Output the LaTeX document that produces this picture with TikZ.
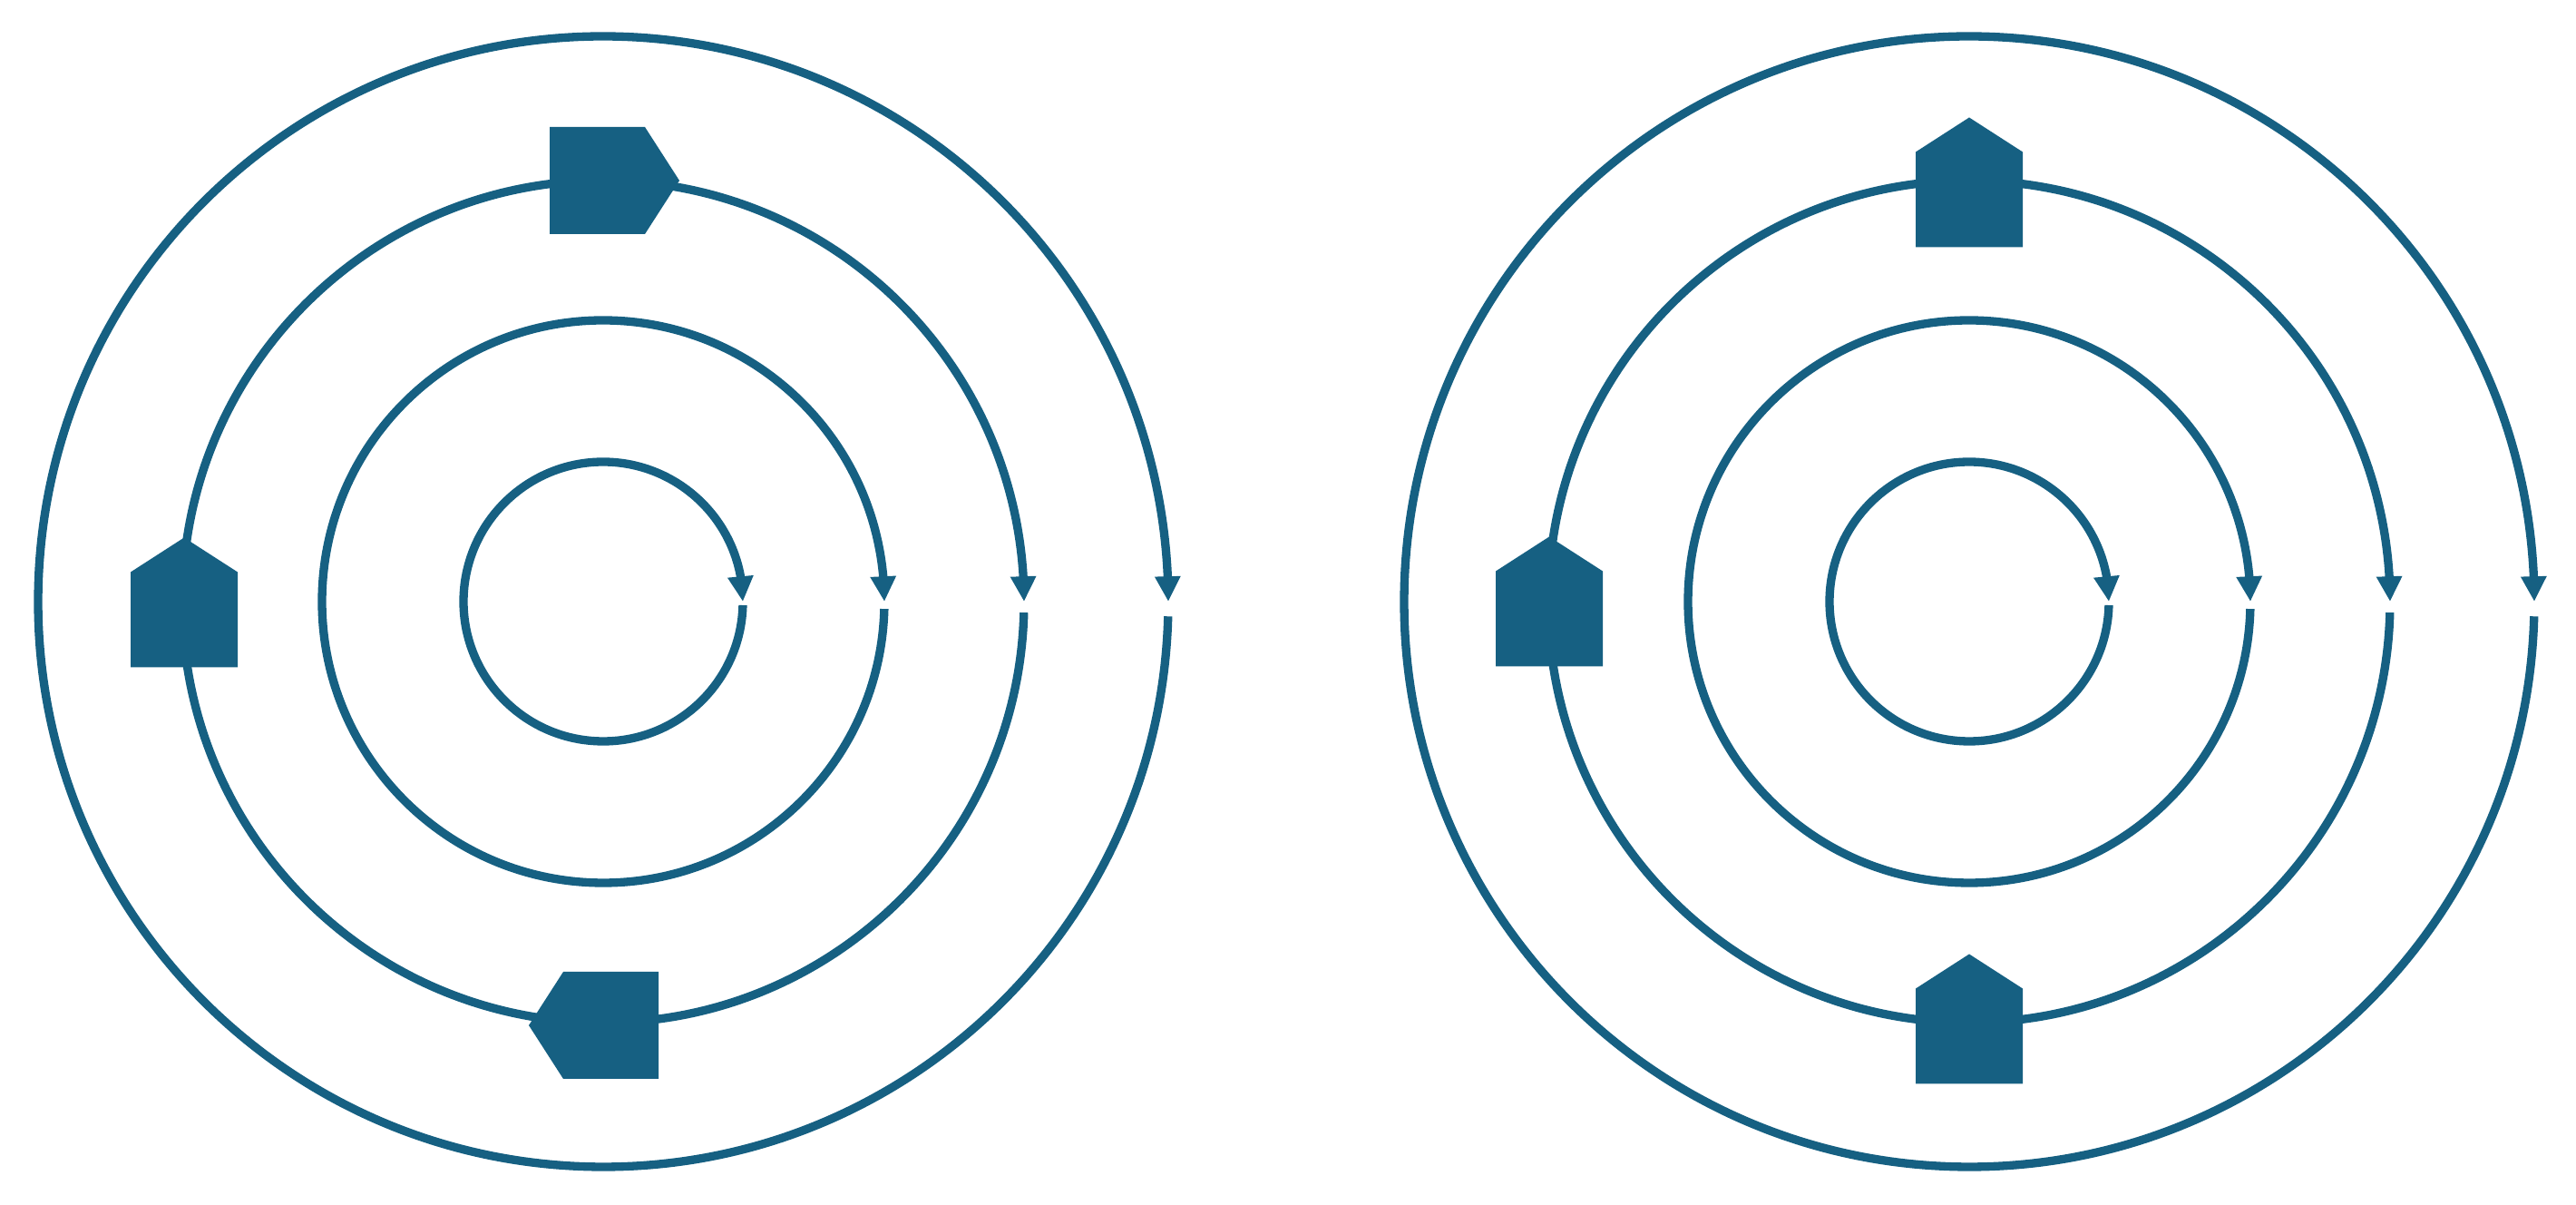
\documentclass[tikz,border=0pt]{standalone}
\usetikzlibrary{arrows.meta}
\definecolor{ringblue}{RGB}{22,96,130}
\begin{document}
\begin{tikzpicture}[line width=2.65pt,ringblue,
    >={Triangle[width=7.6pt,length=7.9pt]},
    chevron/.pic={\fill(-0.715,-0.59)--(0.335,-0.59)--(0.715,0)--(0.335,0.59)--(-0.715,0.59)--cycle;}]
  \useasboundingbox(0,0)rectangle(28.4,13.28);
  \coordinate(L)at(6.65,6.65);
  \coordinate(R)at(21.71,6.65);
  \foreach \c in {L,R}
    \foreach \r in {1.54,3.10,4.64,6.23}
      \draw[->]([shift={(-1.5:\r)}]\c)arc[start angle=-1.5,end angle=-360+16.6/\r,radius=\r]
        --([shift={(0:\r)}]\c);
  % left: chevrons follow the ring
  \pic(ltop)at([shift={(0.125,4.64)}]L){chevron};
  \pic[rotate=90](lleft)at([shift={(-4.62,-0.01)}]L){chevron};
  \pic[rotate=180](lbot)at([shift={(-0.105,-4.67)}]L){chevron};
  % right: chevrons all point up
  \pic[rotate=90](rtop)at([shift={(0,4.62)}]R){chevron};
  \pic[rotate=90](rleft)at([shift={(-4.63,0)}]R){chevron};
  \pic[rotate=90](rbot)at([shift={(0,-4.6)}]R){chevron};
\end{tikzpicture}
\end{document}
